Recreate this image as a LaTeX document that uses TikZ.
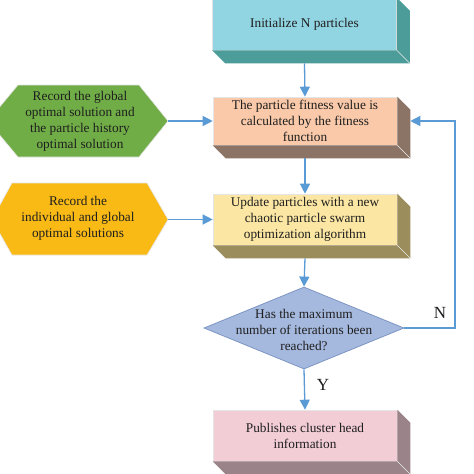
\documentclass[tikz,border=0pt]{standalone}
\usepackage{fontspec}
\setmainfont{Liberation Serif}
\usetikzlibrary{calc,arrows.meta,shapes.geometric}
\definecolor{arrblue}{HTML}{5B9BD5}
\definecolor{initF}{HTML}{92D5E2}
\definecolor{initS}{HTML}{4C9C99}
\definecolor{fitF}{HTML}{F9C9A9}
\definecolor{fitS}{HTML}{8B7466}
\definecolor{updF}{HTML}{FBE6A3}
\definecolor{updS}{HTML}{9C8D5D}
\definecolor{pubF}{HTML}{F2CDD6}
\definecolor{pubS}{HTML}{9A8389}
\definecolor{decF}{HTML}{A5B9DE}
\definecolor{decB}{HTML}{7D95C4}
\definecolor{grnF}{HTML}{70AD47}
\definecolor{orgF}{HTML}{F9BA16}
\definecolor{txt}{HTML}{1E1E1E}
\newcommand{\myextrude}[2]{%
  \fill[#2] (#1.north east) -- ++(13,13) -- ($(#1.south east)+(13,13)$)
    -- ($(#1.south west)+(13,13)$) -- (#1.south west) -- (#1.south east) -- cycle;
  \draw[edgeline] (#1.south east) -- ($(#1.south east)+(13,13)$);}
\begin{document}
\begin{tikzpicture}[x=1pt,y=-1pt,
  every node/.style={font=\fontsize{13.3}{16}\selectfont, text=txt},
  frontbox/.style={draw=white!80!gray, line width=0.6pt, minimum width=184pt, align=center, inner sep=0pt},
  edgeline/.style={draw=white!85!gray, line width=0.6pt},
  arr/.style={draw=arrblue, line width=1.3pt, -{Triangle[length=10pt,width=10pt]}},
  hexa/.style={draw=white!80!gray, line width=0.6pt},
  lbl/.style={font=\fontsize{17}{19}\selectfont}]
\useasboundingbox (0,0) rectangle (474,474);
\fill[white] (0,0) rectangle (474,474);

% 3D boxes
\node[frontbox, fill=initF, minimum height=52pt] (init) at (304.5,24) {Initialize N particles};
\myextrude{init}{initS}
\node[frontbox, fill=fitF, minimum height=48pt] (fit) at (305,121) {The particle fitness value is\\calculated by the fitness\\function};
\myextrude{fit}{fitS}
\node[frontbox, fill=updF, minimum height=51pt] (upd) at (305,219.5) {Update particles with a new\\chaotic particle swarm\\optimization algorithm};
\myextrude{upd}{updS}
\node[frontbox, fill=pubF, minimum height=51pt] (pub) at (305,435.5) {Publishes cluster head\\information};
\myextrude{pub}{pubS}

% decision
\node[diamond, draw=decB, fill=decF, line width=0.8pt, minimum width=200pt, minimum height=82pt, inner sep=0pt] (dec) at (304,328) {};
\node[align=center] (dectext) at (304,329.5) {Has the maximum\\number of iterations been\\reached?};

% hexagons
\coordinate (gE) at (168,121);
\fill[grnF] (-12,121) -- (18,85) -- (139,85) -- (gE) -- (139,157) -- (18,157) -- cycle;
\draw[hexa] (-12,121) -- (18,85) -- (139,85) -- (gE) -- (139,157) -- (18,157) -- cycle;
\node[align=center] (grn) at (80,121) {Record the global\\optimal solution and\\the particle history\\optimal solution};

\coordinate (oE) at (168,219.5);
\fill[orgF] (-8,219.5) -- (12,183) -- (147,183) -- (oE) -- (147,255) -- (12,255) -- cycle;
\draw[hexa] (-8,219.5) -- (12,183) -- (147,183) -- (oE) -- (147,255) -- (12,255) -- cycle;
\node[align=center] (org) at (78,218) {Record the\\individual and global\\optimal solutions};

% connectors
\coordinate (initB) at ($(init.south)+(0,13)$);
\coordinate (fitB) at ($(fit.south)+(0,13)$);
\coordinate (updB) at ($(upd.south)+(0,13)$);
\coordinate (fitR) at ($(fit.east)+(13,0)$);
\coordinate (loop) at (455,121);
\draw[arr] (initB) -- (fit.north);
\draw[arr] (fitB) -- (upd.north);
\draw[arr] (updB) -- (dec.north);
\draw[arr] (dec.south) -- (pub.north);
\draw[arr] (gE) -- (fit.west);
\draw[arr] (oE) -- (upd.west);
\draw[arr] (dec.east) -| (loop) -- (fitR);

\node[lbl] (lblN) at (440,313) {N};
\node[lbl] (lblY) at (323,385) {Y};
\end{tikzpicture}
\end{document}
